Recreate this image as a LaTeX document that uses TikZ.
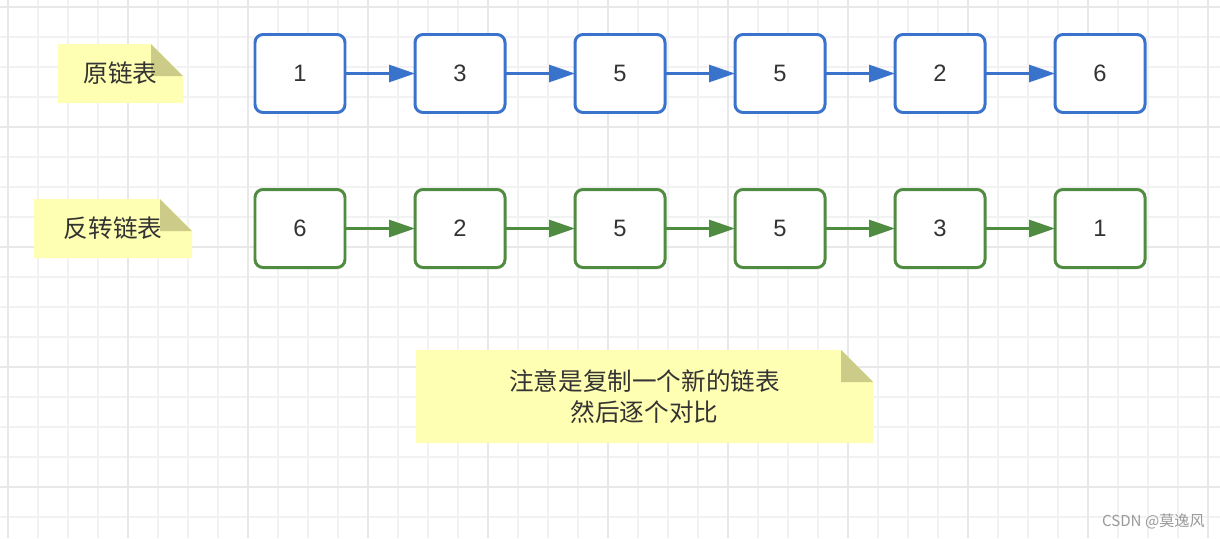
\documentclass[tikz,border=0pt]{standalone}
\usepackage{fontspec}
\setmainfont{Liberation Sans}
\newfontfamily\cjk{Noto Sans CJK SC}
\usetikzlibrary{positioning,arrows.meta}
\definecolor{listblue}{HTML}{3A73CC}
\definecolor{listgreen}{HTML}{4F8B40}
\definecolor{notefill}{HTML}{FFFFB3}
\definecolor{notefold}{HTML}{CCCC88}
\definecolor{textgray}{HTML}{333333}
\definecolor{gridminor}{HTML}{F2F2F2}
\definecolor{gridmajor}{HTML}{E8E8E8}

\begin{document}
\begin{tikzpicture}[
  node distance=1.54cm and 1.4cm,
  cell/.style={draw, line width=1.7pt, rounded corners=0.16cm, fill=white,
    minimum width=1.8cm, minimum height=1.56cm, inner sep=0pt, outer sep=0pt,
    text=textgray, font=\fontsize{13.5}{16}\selectfont},
  orig/.style={cell, draw=listblue},
  rev/.style={cell, draw=listgreen},
  link/.style={-{Triangle[length=0.52cm, width=0.34cm]}, line width=1.7pt},
  note/.style={inner sep=0pt, align=center, text=textgray,
    font=\cjk\fontsize{14}{17.6}\selectfont,
    path picture={
      \fill[notefill] (path picture bounding box.south west)
        -- (path picture bounding box.north west)
        -- ([xshift=-0.64cm]path picture bounding box.north east)
        -- ([yshift=-0.64cm]path picture bounding box.north east)
        -- (path picture bounding box.south east) -- cycle;
      \fill[notefold] ([xshift=-0.64cm]path picture bounding box.north east)
        -- ([xshift=-0.64cm,yshift=-0.64cm]path picture bounding box.north east)
        -- ([yshift=-0.64cm]path picture bounding box.north east) -- cycle;
    }},
]
  \useasboundingbox (0,0) rectangle (24.4,-10.76);
  \fill[white] (0,0) rectangle (24.4,-10.76);
  % grid paper
  \foreach \x in {0.16,0.76,...,24.4} \draw[gridminor, line width=0.6pt] (\x,0) -- (\x,-10.76);
  \foreach \y in {-0.14,-0.74,...,-10.76} \draw[gridminor, line width=0.6pt] (0,\y) -- (24.4,\y);
  \foreach \x in {0.16,2.56,...,24.4} \draw[gridmajor, line width=1pt] (\x,0) -- (\x,-10.76);
  \foreach \y in {-0.14,-2.54,...,-10.76} \draw[gridmajor, line width=1pt] (0,\y) -- (24.4,\y);

  % original list
  \node[orig] (o1) at (6.0,-1.47) {1};
  \node[orig, right=of o1] (o2) {3};
  \node[orig, right=of o2] (o3) {5};
  \node[orig, right=of o3] (o4) {5};
  \node[orig, right=of o4] (o5) {2};
  \node[orig, right=of o5] (o6) {6};
  % reversed list
  \node[rev, below=of o1] (r1) {6};
  \node[rev, right=of r1] (r2) {2};
  \node[rev, right=of r2] (r3) {5};
  \node[rev, right=of r3] (r4) {5};
  \node[rev, right=of r4] (r5) {3};
  \node[rev, right=of r5] (r6) {1};

  \draw[link, listblue] (o1) -- (o2);
  \draw[link, listblue] (o2) -- (o3);
  \draw[link, listblue] (o3) -- (o4);
  \draw[link, listblue] (o4) -- (o5);
  \draw[link, listblue] (o5) -- (o6);
  \draw[link, listgreen] (r1) -- (r2);
  \draw[link, listgreen] (r2) -- (r3);
  \draw[link, listgreen] (r3) -- (r4);
  \draw[link, listgreen] (r4) -- (r5);
  \draw[link, listgreen] (r5) -- (r6);

  % notes
  \node[note, minimum width=2.5cm, minimum height=1.18cm] (origlabel) at (2.41,-1.47) {原链表};
  \node[note, minimum width=3.16cm, minimum height=1.18cm] (revlabel) at (2.26,-4.57) {反转链表};
  \node[note, minimum width=9.14cm, minimum height=1.86cm] (hint) at (12.89,-7.93)
    {注意是复制一个新的链表\\然后逐个对比};

  \node[anchor=east, inner sep=0pt, text=gray!80, font=\cjk\fontsize{8.6}{10}\selectfont]
    (mark) at (24.1,-10.42) {CSDN @莫逸风};
\end{tikzpicture}
\end{document}
